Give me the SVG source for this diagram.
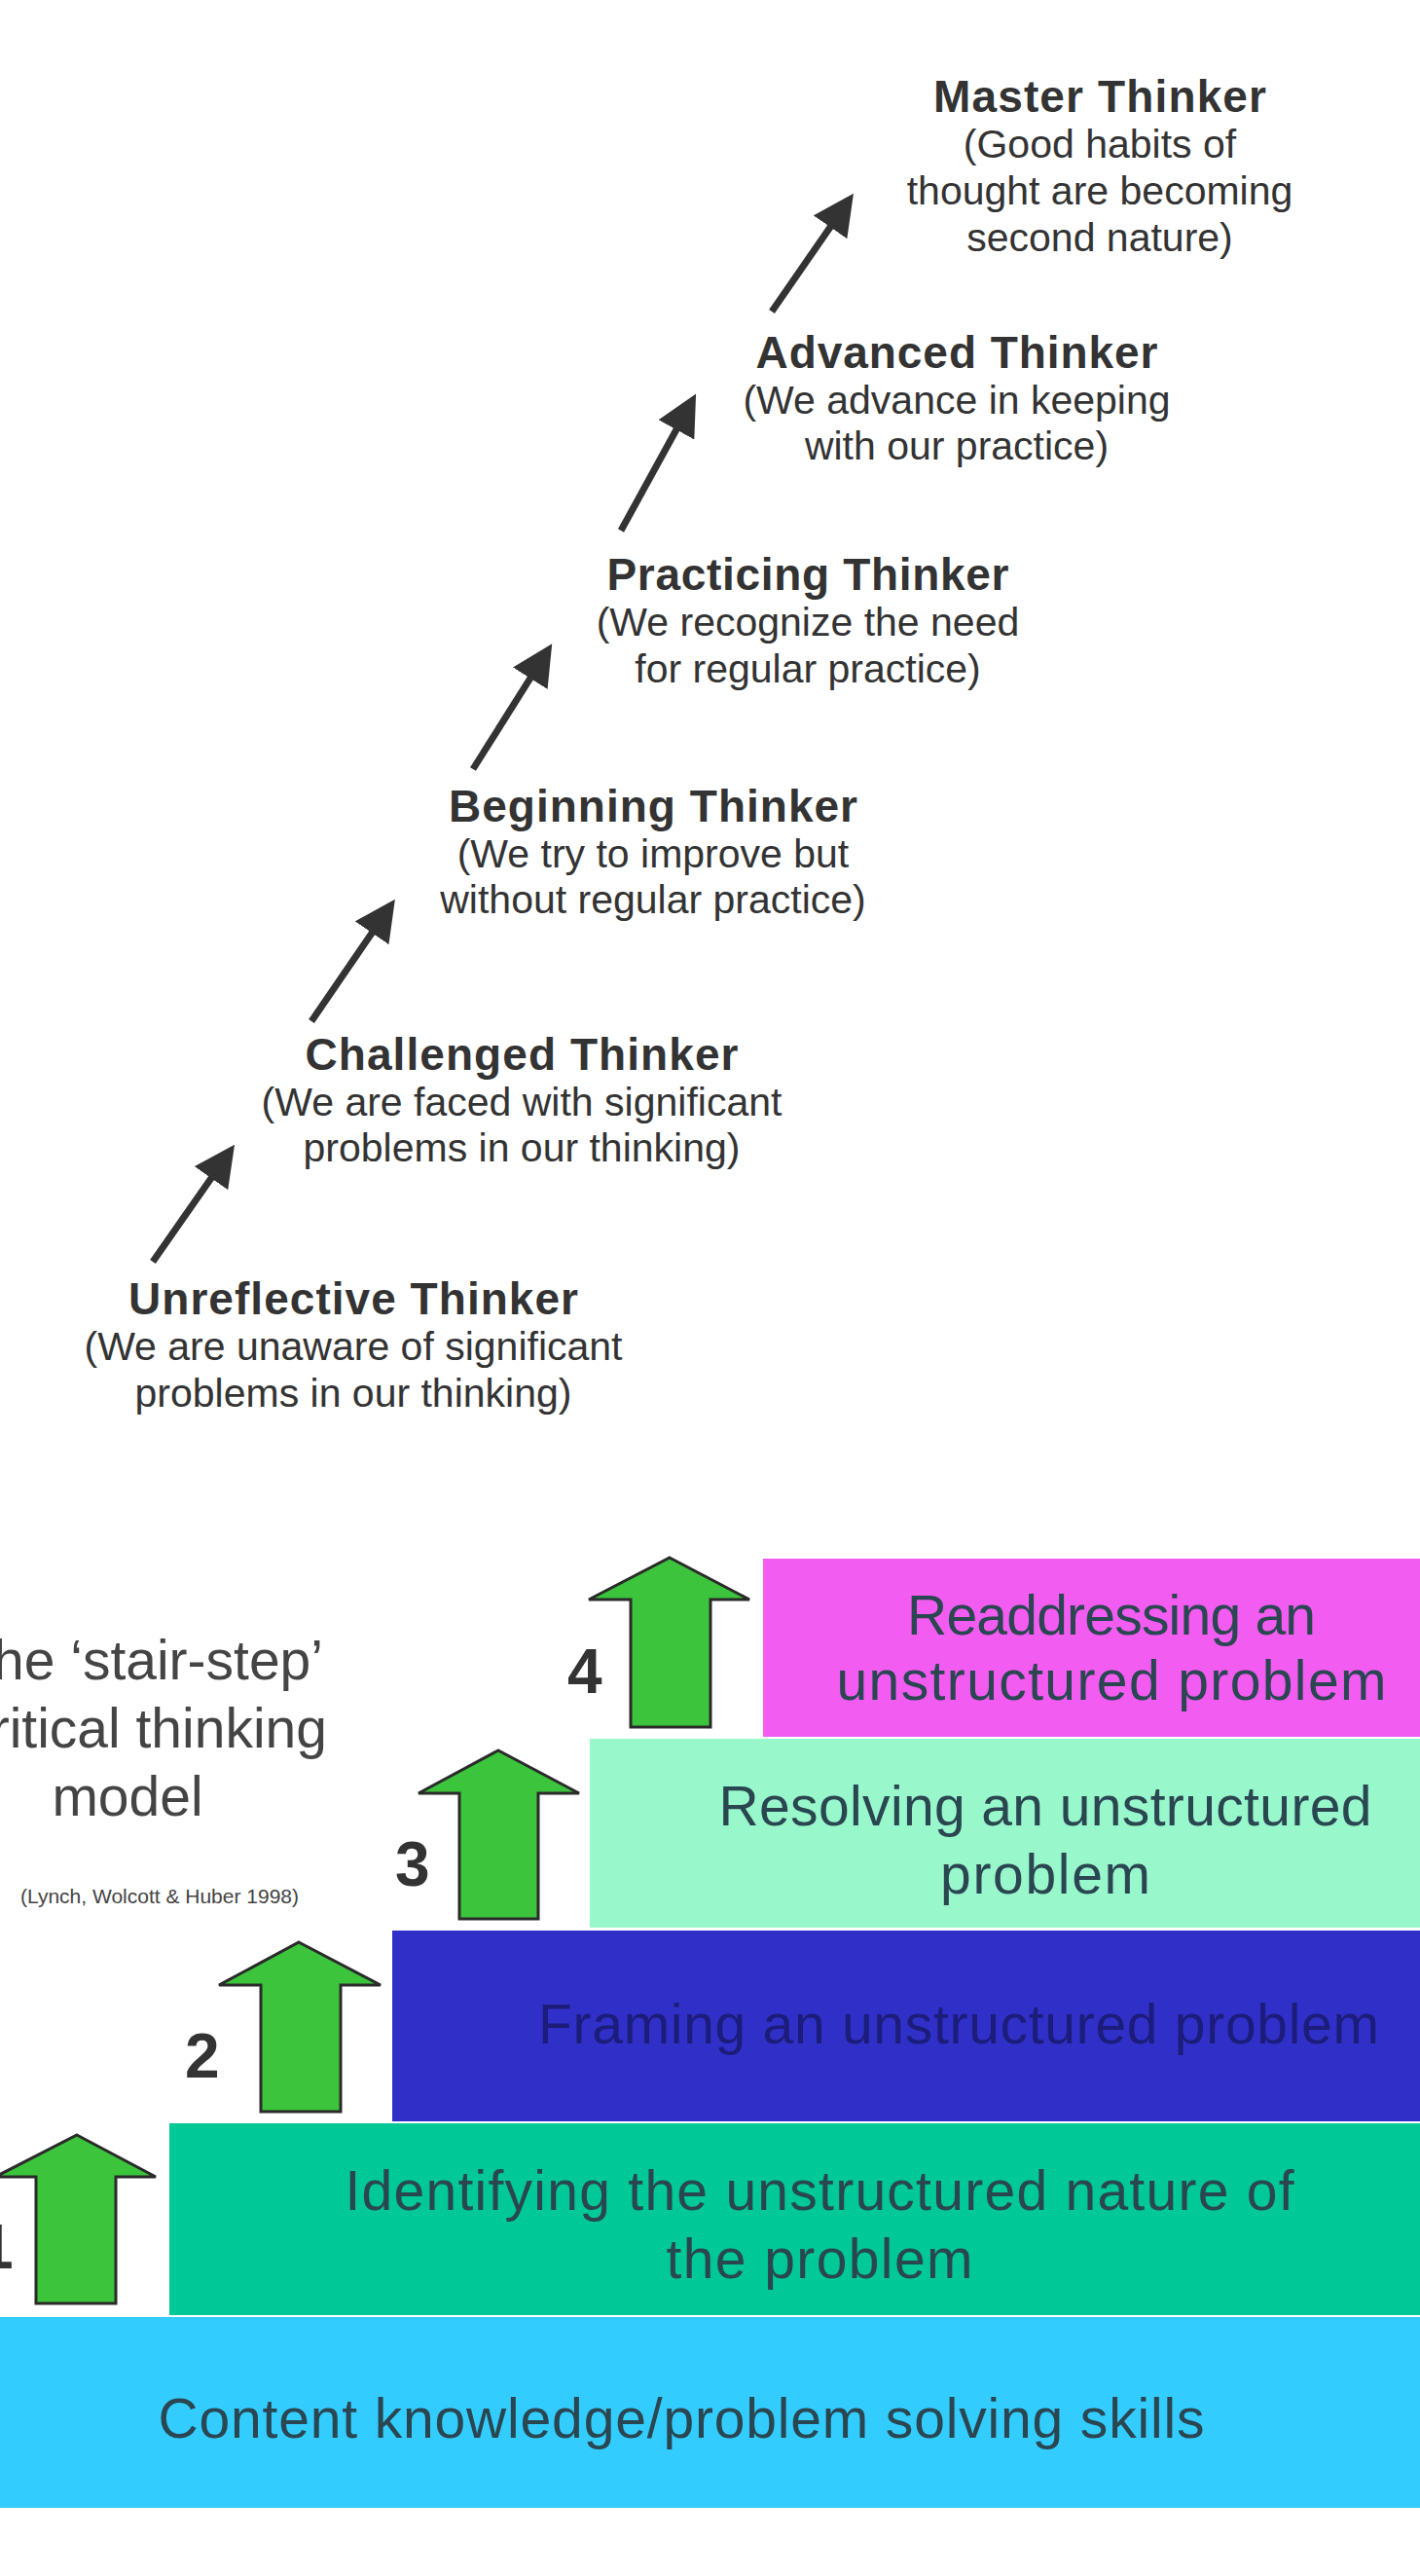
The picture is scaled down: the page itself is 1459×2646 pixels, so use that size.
<svg xmlns="http://www.w3.org/2000/svg" width="1459" height="2646" viewBox="0 0 1459 2646">
<style>
.t{font-family:"Liberation Sans",Arial,sans-serif;font-weight:bold;font-size:46px;fill:#333;text-anchor:middle}
.s{font-family:"Liberation Sans",Arial,sans-serif;font-size:41px;fill:#333;text-anchor:middle}
.b{font-family:"Liberation Sans",Arial,sans-serif;font-size:57px;text-anchor:middle;fill:#2a4650}
.n{font-family:"Liberation Sans",Arial,sans-serif;font-weight:bold;font-size:64px;fill:#333}
.l{font-family:"Liberation Sans",Arial,sans-serif;font-size:57px;fill:#444;text-anchor:end}
.c{stroke:#333;stroke-width:7;marker-end:url(#ah)}
.g{fill:#3cc43c;stroke:#2a2a2a;stroke-width:3}
</style>
<defs>
<marker id="ah" markerWidth="6" markerHeight="6" refX="3" refY="3" orient="auto" markerUnits="strokeWidth" viewBox="0 0 6 6"><path d="M0,0 L6,3 L0,6 Z" fill="#333"/></marker>
</defs>
<rect width="1459" height="2646" fill="#fff"/>
<g id="connectors">
<line class="c" x1="793" y1="320" x2="865" y2="216"/>
<line class="c" x1="638" y1="545" x2="705" y2="423"/>
<line class="c" x1="486" y1="790" x2="556" y2="679"/>
<line class="c" x1="320" y1="1049" x2="394" y2="941"/>
<line class="c" x1="157" y1="1296" x2="229" y2="1193"/>
</g>
<g id="master"><text class="t" x="1130" y="115" textLength="342">Master Thinker</text><text class="s" x="1130" y="162">(Good habits of</text><text class="s" x="1130" y="210">thought are becoming</text><text class="s" x="1130" y="258">second nature)</text></g>
<g id="advanced"><text class="t" x="983" y="378" textLength="413">Advanced Thinker</text><text class="s" x="983" y="425">(We advance in keeping</text><text class="s" x="983" y="472">with our practice)</text></g>
<g id="practicing"><text class="t" x="830" y="606" textLength="413">Practicing Thinker</text><text class="s" x="830" y="653">(We recognize the need</text><text class="s" x="830" y="701">for regular practice)</text></g>
<g id="beginning"><text class="t" x="671" y="844" textLength="420">Beginning Thinker</text><text class="s" x="671" y="891">(We try to improve but</text><text class="s" x="671" y="938">without regular practice)</text></g>
<g id="challenged"><text class="t" x="536" y="1099" textLength="445">Challenged Thinker</text><text class="s" x="536" y="1146">(We are faced with significant</text><text class="s" x="536" y="1193">problems in our thinking)</text></g>
<g id="unreflective"><text class="t" x="363" y="1350" textLength="462">Unreflective Thinker</text><text class="s" x="363" y="1397">(We are unaware of significant</text><text class="s" x="363" y="1445">problems in our thinking)</text></g>

<g id="model-title"><text class="l" x="332" y="1725">The ‘stair-step’</text><text class="l" x="336" y="1795">critical thinking</text><text class="l" x="131" y="1865" style="text-anchor:middle">model</text><text class="l" x="307" y="1955" style="font-size:21px">(Lynch, Wolcott &amp; Huber 1998)</text></g>

<g id="step0"><rect x="0" y="2380" width="1459" height="196" fill="#33ccff"/><text class="b" x="700" y="2504" textLength="1075">Content knowledge/problem solving skills</text></g>
<g id="step1"><rect x="174" y="2181" width="1285" height="197" fill="#00c896"/><text class="b" x="842" y="2270" textLength="975">Identifying the unstructured nature of</text><text class="b" x="842" y="2340" textLength="315">the problem</text></g>
<g id="step2"><rect x="403" y="1983" width="1056" height="196" fill="#3030c8"/><text class="b" x="985" y="2099" textLength="864" style="fill:#1c1c7a">Framing an unstructured problem</text></g>
<g id="step3"><rect x="606" y="1786" width="853" height="194" fill="#99f7cc"/><text class="b" x="1074" y="1875" textLength="671">Resolving an unstructured</text><text class="b" x="1074" y="1945" textLength="216">problem</text></g>
<g id="step4"><rect x="784" y="1601" width="675" height="183" fill="#f25cf0"/><text class="b" x="1142" y="1679" textLength="420">Readdressing an</text><text class="b" x="1142" y="1746" textLength="565">unstructured problem</text></g>

<g id="arrow1"><polygon class="g" points="79,2193 160,2236 119,2236 119,2366 37,2366 37,2236 -5,2236"/><text class="n" x="-22" y="2330">1</text></g>
<g id="arrow2"><polygon class="g" points="307,1995 391,2039 350,2039 350,2169 268,2169 268,2039 225,2039"/><text class="n" x="190" y="2134">2</text></g>
<g id="arrow3"><polygon class="g" points="512,1798 595,1842 553,1842 553,1971 472,1971 472,1842 430,1842"/><text class="n" x="406" y="1937">3</text></g>
<g id="arrow4"><polygon class="g" points="688,1600 770,1643 730,1643 730,1774 648,1774 648,1643 605,1643"/><text class="n" x="583" y="1739">4</text></g>
</svg>
